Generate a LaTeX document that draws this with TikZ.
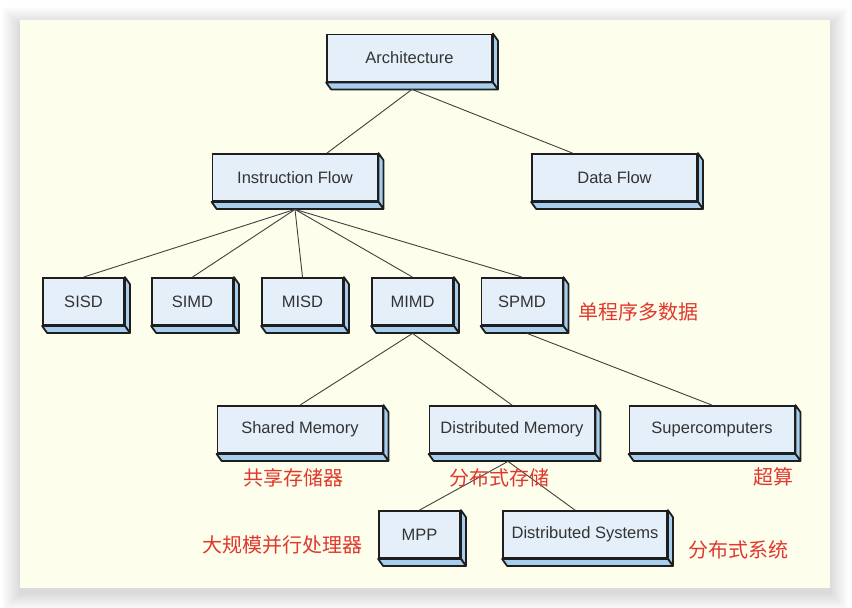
\documentclass[tikz,border=0pt]{standalone}
\usepackage{fontspec}
\newfontfamily\boxfont{Liberation Sans}
\newfontfamily\cjk{Noto Sans CJK SC}
\definecolor{panel}{RGB}{254,254,236}
\definecolor{boxface}{RGB}{228,239,250}
\definecolor{boxside}{RGB}{168,206,238}
\definecolor{boxline}{RGB}{30,30,30}
\definecolor{notered}{RGB}{224,56,44}
\tikzset{
  box/.style={draw=boxline, fill=boxface, line width=1.8pt, minimum height=47pt, inner sep=0pt,
    text=black!80, font=\boxfont\fontsize{16.5}{18}\selectfont},
  wide/.style={box, minimum width=165pt},
  small/.style={box, minimum width=81pt},
  side/.style={draw=boxline, fill=boxside, line width=1.8pt, line join=round},
  link/.style={draw=black!75, line width=0.9pt},
  note/.style={text=notered, font=\cjk\fontsize{20}{22}\selectfont}
}

\begin{document}
\begin{tikzpicture}[x=1pt, y=-1pt]
    \useasboundingbox (0,0) rectangle (852,608);
    \fill[white] (0,0) rectangle (852,608);
    \foreach \i in {1,...,18}
      \fill[black, opacity=0.007] (20-\i,20-\i+5) rectangle (830+\i,588+\i+5);
    \fill[panel] (20,20) rectangle (830,588);

    \node[wide] (arch) at (409.5,58) {Architecture};
    \node[wide] (instr) at (295,177.5) {Instruction Flow};
    \node[wide] (data) at (614.5,177.5) {Data Flow};

    \node[small] (sisd) at (83.5,301.5) {SISD};
    \node[small] (simd) at (192.5,301.5) {SIMD};
    \node[small] (misd) at (302.5,301.5) {MISD};
    \node[small] (mimd) at (412.5,301.5) {MIMD};
    \node[small] (spmd) at (522,301.5) {SPMD};

    \node[wide] (shared) at (300,429.5) {Shared Memory};
    \node[wide] (distmem) at (512,429.5) {Distributed Memory};
    \node[wide] (super) at (712,429.5) {Supercomputers};

    \node[small] (mpp) at (419.5,534.5) {MPP};
    \node[wide, minimum width=164pt] (distsys) at (585,534.5) {Distributed Systems};

    \foreach \n in {arch,instr,data,sisd,simd,misd,mimd,spmd,shared,distmem,super,mpp,distsys} {
      \filldraw[side] (\n.north east) -- ++(5,7) -- ([shift={(5,7)}]\n.south east) -- (\n.south east) -- cycle;
      \filldraw[side] (\n.south west) -- (\n.south east) -- ([shift={(5,7)}]\n.south east)
        -- ([shift={(5,7)}]\n.south west) -- cycle;
    }

    \draw[link] ([shift={(2.5,7)}]arch.south) -- ([shift={(32,0)}]instr.north);
    \draw[link] ([shift={(2.5,7)}]arch.south) -- ([shift={(-42,0)}]data.north);
    \foreach \n in {sisd,simd,misd,mimd,spmd}
      \draw[link] ([shift={(0,7.5)}]instr.south) -- (\n.north);
    \draw[link] ([shift={(0,7.5)}]mimd.south) -- (shared.north);
    \draw[link] ([shift={(0,7.5)}]mimd.south) -- (distmem.north);
    \draw[link] ([shift={(5,7.5)}]spmd.south) -- (super.north);
    \draw[link] ([shift={(-4,7.5)}]distmem.south) -- (mpp.north);
    \draw[link] ([shift={(-4,7.5)}]distmem.south) -- ([shift={(-10,0)}]distsys.north);

    \node[note] (spmdnote) at (638.5,312) {单程序多数据};
    \node[note] (sharednote) at (293,478) {共享存储器};
    \node[note] (distmemnote) at (499,478) {分布式存储};
    \node[note] (supernote) at (773.5,477) {超算};
    \node[note] (mppnote) at (282,545) {大规模并行处理器};
    \node[note] (distsysnote) at (738,550) {分布式系统};
\end{tikzpicture}
\end{document}
